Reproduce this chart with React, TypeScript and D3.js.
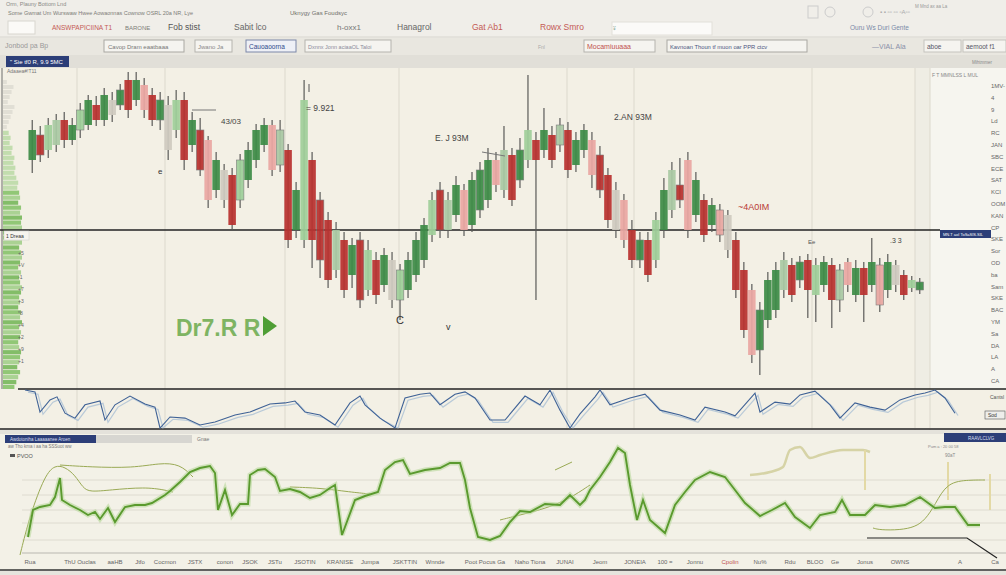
import React from 'react';
import * as d3 from 'd3';

// ---------- DATA ----------
const opens = [228,253,238,243,268,248,258,263,283,268,288,283,308,288,303,293,268,283,258,288,243,258,248,198,218,213,188,208,228,243,263,223,238,158,148,228,188,168,118,148,113,148,98,128,103,128,88,98,113,128,153,198,158,173,198,163,178,188,228,198,233,208,228,248,238,253,243,258,223,238,248,233,213,198,188,158,128,148,128,158,178,203,228,173,188,163,178,173,148,118,98,38,68,78,98,123,108,128,93,103,123,88,126,93,120,103,123,98,123,113,100,98];
const closes = [258,233,263,268,248,263,278,288,268,293,273,298,278,308,278,268,288,238,288,228,268,218,188,228,188,163,228,238,258,263,218,258,148,198,288,148,128,108,158,98,143,88,138,93,133,88,118,128,148,163,188,158,188,203,158,208,218,228,203,238,188,238,258,228,258,228,263,218,248,258,213,198,168,158,148,128,148,113,168,198,218,188,158,208,153,183,153,138,98,58,33,78,108,118,128,93,126,98,123,126,88,118,103,120,93,126,83,126,103,93,108,106];
const highs = [268,262,270,274,276,270,285,293,292,300,296,304,316,316,310,300,296,292,298,296,276,270,252,236,224,220,234,246,264,270,268,268,244,206,308,236,196,176,166,156,150,156,148,136,140,136,124,136,156,170,196,206,196,212,204,216,226,240,236,262,240,250,313,256,280,262,270,266,256,264,256,242,220,206,194,168,156,156,176,210,226,230,236,216,194,190,184,178,156,126,104,86,116,126,136,130,132,134,130,132,130,124,130,128,126,150,130,134,128,118,112,110];
const lows = [215,226,230,236,240,243,250,258,262,262,266,278,270,282,270,262,258,228,250,218,236,212,180,190,180,158,180,200,220,236,212,216,140,150,140,120,110,100,110,90,100,80,92,84,96,80,68,90,106,120,146,150,150,166,152,156,170,180,196,190,182,200,220,88,230,220,236,210,216,230,200,190,160,150,140,120,120,106,120,150,170,180,150,166,146,156,146,130,90,50,25,13,60,70,90,86,100,70,66,96,60,76,96,86,66,96,76,90,96,88,96,94];

const oscT = [2.5,3.5,4,5,5.7,6.5,7.5,8.5,10,10.5,11.5,13,14.5,15.5,16,17,18.5,20,21.5,23.5,25,27,28.5,29.5,30.5,32,33.5,35,36,36.5,38,39.5,40.5,42,43,44,45.5,46.5,47.5,49,50.5,52.5,54,55,56,57,58,59.5,60,61,63,64.5,66,68,69.5,70.5,72.5,73.5,75.5,76,77.5,79,80,81.5,83,84,85.5,87,88.5,90,91.5,92.5,93.5,94.5,95.5];
const oscV = [100,95,42,74,82,39,26,61,71,21,61,84,63,55,0,29,26,8,16,34,42,63,66,71,42,34,8,66,84,61,26,0,79,89,92,61,89,95,79,21,21,84,61,100,47,0,37,82,100,61,79,89,47,34,21,55,42,32,92,42,68,63,87,97,61,26,66,55,47,74,87,92,100,79,39];

const trendT = [2.8,3.3,4,5,5.5,6,6.2,7,8,8.8,9.5,10,10.8,11.5,12.5,13.5,14.5,15.2,16.5,17,18,19,20,21,21.5,21.8,22.5,23.2,24,24.8,25,25.8,26.5,27.5,28,29,30,31,32,33,33.5,34.2,35.5,36.5,37.8,38.5,39.5,40.3,41,42.5,44,45,46,46.5,47,47.8,49,50,51,52,53,54.5,56,57,58,58.5,59,60,61,61.8,62.5,63,63.7,64.3,65,66.5,67.5,68.5,69.5,71,72.5,73.5,74.5,76,77.2,78.5,79.5,81,82,83.5,84.2,85,86.5,87.5,89,90.5,92,93.5,94.5,95.5,96.8,98];
const trendV = [23,50,53,55,63,82,60,55,50,45,48,41,52,38,53,55,55,57,65,69,78,88,92,94,87,50,70,45,56,56,85,90,91,83,69,71,68,62,65,72,75,25,60,64,68,90,98,100,86,90,92,97,97,80,52,23,20,24,38,49,48,56,55,65,55,60,70,83,98,112,107,75,40,60,40,27,55,68,80,88,83,70,57,44,50,57,43,32,45,48,60,45,45,55,53,55,63,52,53,53,35,35];

const envA_T = [2,3,4.5,5.5,6.5,7.5,8.3,9,11,14.5,16.5,17.3];
const envA_V = [5,45,85,95,93,85,72,68,70,73,70,68];
const envB_T = [6,9,13.3,16,18,19.3];
const envB_V = [95,93,92,97,96,83];
const envC_T = [29,32,35,37];
const envC_V = [73,72,68,66];
const envD_T = [50,52,54,56,57.5,59];
const envD_V = [40,45,50,57,65,75];
const envE_T = [55.5,57.2];
const envE_V = [90,98];
const fadedT = [75,77,78.3,79,80,81,82,84.3,86.3,87];
const fadedV = [85,88,93,110,113,102,105,110,110,108];
const envG_T = [87.3,88,90,91.5,92.5,93.5,94.7,97,98.5];
const envG_V = [32,30,30,33,40,55,78,80,80];
const floorT = [86.7,96.7,99.7];
const floorV = [22,22,2];

const lowerGrid = [80, 65, 50, 37, 20];
const profile = [6,8,7,10,9,12,11,13,12,14,16,15,17,18,16,19,18,20,19,20,18,19,20,17,19,20,18,16,19,17,18,20,19,17,18,16,19,18,20,17,19,18,16,17,19,18,17,15,18,16,14,12];
const gridTimes = [7.7, 16.5, 28.5, 39.9, 56.7, 63.4, 81.2, 91.5, 93];

const axisLabels = ['Rua','ThU Ouclas','aaHB','Jtfo','Cocmon','JSTX','conon','JSOK','JSTu','JSOTIN','KRANISE','Jumpa','JSKTTIN','Wnnde','Poot Pocus Ga','Naho Tiona','JUNAI','Jeom','JONEIA','100 =','Jonnu','Cpolin','Nu%','Rdu','BLOO','Ge','Jonus','OWNS','A','Ca'];
const axisTimes = [3,8,11.5,14,16.5,19.5,22.5,25,27.5,30.5,34,37,40.5,43.5,48.5,53,56.5,60,63.5,66.5,69.5,73,76,79,81.5,83.5,86.5,90,96,99.5];
const priceLabels = ['1MV-','4','9','Ld','RC','JAN','SBC','ECE','SAT','KCI','OOM','KAN','CP','SKE','Sor','OD','ba','Sam','SKE','BAC','YM','Sa','DA','LA','A','CA'];

// ---------- COMPONENT ----------
const FONT = '"Liberation Sans", "DejaVu Sans", Arial, sans-serif';

export default function App() {
  const W = 1006, H = 575;
  const idx = opens.map((_, i) => i);
  const xBand = d3.scaleBand<number>().domain(idx).range([28, 924]).padding(0.06);
  const yPrice = d3.scaleLinear().domain([0, 320]).range([388, 68]);
  const xTime = d3.scaleLinear().domain([0, 100.6]).range([0, W]);
  const yOsc = d3.scaleLinear().domain([0, 100]).range([428, 390]);
  const yLow = d3.scaleLinear().domain([0, 130]).range([560, 430]);
  const yProf = d3.scaleBand<number>().domain(profile.map((_, i) => i)).range([130, 390]).padding(0.15);
  const xProf = d3.scaleLinear().domain([0, 20]).range([3, 22]);

  const mk = (T: number[], V: number[], ys: d3.ScaleLinear<number, number>, curve = d3.curveLinear) =>
    d3.line<number>().x((_, i) => xTime(T[i])).y((v) => ys(v)).curve(curve)(V) || '';

  const txt = (x: number, y: number, s: string, size = 7, fill = '#8a8a86', extra: any = {}) => (
    <text x={x} y={y} fontSize={size} fill={fill} fontFamily={FONT} {...extra}>{s}</text>
  );

  const candleColor = (i: number) => {
    const up = closes[i] >= opens[i];
    if (i % 7 === 3) return up ? '#a9c9a4' : '#cfcac0';
    if (i % 4 === 2) return up ? '#9fcf9a' : '#e9a7a2';
    return up ? '#3d8c47' : '#b8312f';
  };

  return (
    <div>
      <style>{`body{margin:0;background:#eeece6}`}</style>
      <svg width={W} height={H} style={{ display: 'block' }} fontFamily={FONT}>
        <rect x={0} y={0} width={W} height={H} fill="#eeece6" />

        {/* ---- toolbar ---- */}
        <rect x={0} y={0} width={W} height={37} fill="#f0eee9" />
        {txt(6, 6, 'Orm, Plauny   Bottom   Lnd', 5.5)}
        {txt(8, 15, 'Some Gwmat Um   Wurswaw    Hwee   Aowaonnas   Cownow   OSRL   20a   NR, Lye', 5.5, '#7d7d78')}
        {txt(290, 15, 'Uknygy   Gas   Foudsyc', 6, '#6f6f6a')}
        <rect x={8} y={21} width={27} height={13} fill="#fbfaf7" stroke="#d8d6cf" />
        {txt(52, 30, 'ANSWPAPICIINA   T1', 6.5, '#c45a55')}
        {txt(125, 30, 'BARONE', 6, '#7d7d78')}
        {txt(168, 30, 'Fob stist', 8.5, '#555')}
        {txt(234, 30, 'Sabit lco', 8.5, '#666')}
        {txt(337, 30, 'h-oxx1', 8, '#777')}
        {txt(397, 30, 'Hanagrol', 8.5, '#666')}
        {txt(472, 30, 'Gat Ab1', 8.5, '#c45a55')}
        {txt(540, 30, 'Rowx Smro', 8.5, '#c45a55')}
        <rect x={612} y={22} width={100} height={13} fill="#fbfaf8" stroke="#e2e0da" />
        {txt(612, 31, '⍤', 8, '#8a9')}
        <rect x={808} y={6} width={10} height={12} fill="none" stroke="#ccc" />
        <circle cx={830} cy={12} r={5} fill="none" stroke="#ccc" />
        <circle cx={868} cy={12} r={5} fill="none" stroke="#ccc" />
        {txt(915, 8, 'M Mnd ax  aa  La', 4.5, '#999')}
        {txt(880, 14, '▪ ▪ ▫▫ ▫▫ ▫A▫▫', 6, '#aaa')}
        {txt(850, 30, 'Ouru   Ws   Duri   Gente', 6.5, '#7a8aa8')}
        <line x1={0} y1={37} x2={W} y2={37} stroke="#d8d6cf" />

        {/* button row */}
        <rect x={0} y={38} width={W} height={17} fill="#e9e7e0" />
        {txt(5, 48, 'Jonbod    pa    Bp', 7, '#999')}
        <rect x={104} y={40} width={80} height={12} fill="#f5f4f0" stroke="#a9a8a2" />
        {txt(108, 49, 'Cavop Dram  eaatbaaa', 6, '#777')}
        <rect x={195} y={40} width={37} height={12} fill="#f5f4f0" stroke="#b5b4ae" />
        {txt(198, 49, 'Jwano   Ja', 6, '#888')}
        <rect x={246} y={40} width={50} height={12} fill="#eef0f6" stroke="#7c88a8" />
        {txt(249, 49, 'Cauoaoorna', 6.5, '#2f4a8a')}
        <rect x={305} y={40} width={86} height={12} fill="#f5f4f0" stroke="#b5b4ae" />
        {txt(308, 49, 'Dxnnx Jonn aciaaOL Taloi', 5.5, '#8a8a9a')}
        {txt(538, 49, 'Fnl', 5, '#aaa')}
        <rect x={584} y={40} width={71} height={12} fill="#f5f4f0" stroke="#b5b4ae" />
        {txt(587, 49, 'Mocamiuuaaa', 7, '#c0504d')}
        <rect x={667} y={40} width={140} height={12} fill="#f5f4f0" stroke="#a9a8a2" />
        {txt(670, 49, 'Kavnoan Thoun tf muon  oar PPR  ctcv', 5.8, '#4a5680')}
        {txt(872, 49, '—VIAL Ala', 7, '#8a8fa8')}
        <rect x={924} y={40} width={37} height={12} fill="#f5f4f0" stroke="#c5c4be" />
        {txt(927, 49, 'aboe', 6.5, '#556')}
        <rect x={963} y={40} width={43} height={12} fill="#f5f4f0" stroke="#c5c4be" />
        {txt(966, 49, 'aemoot  f1', 6.5, '#556')}

        {/* band */}
        <rect x={0} y={55} width={W} height={13} fill="#e1dfd8" />
        <rect x={6} y={56} width={63} height={11} fill="#2c3e78" />
        {txt(10, 64, '" Sie tf0 R, 9.9 5MC', 6, '#fff')}
        {txt(972, 64, 'Mihtmmer', 4.5, '#888')}

        {/* ---- main chart panel ---- */}
        <rect x={0} y={68} width={W} height={321} fill="#f3f0e5" />
        <rect x={930} y={68} width={76} height={321} fill="#f6f5ef" />
        <rect x={915} y={68} width={15} height={321} fill="#efede4" />
        {gridTimes.map((t, i) => (
          <line key={'g' + i} x1={xTime(t)} x2={xTime(t)} y1={68} y2={552} stroke="#dcd9cd" strokeWidth={1} />
        ))}
        {txt(7, 73, 'Adaaea#!T11', 5, '#777')}

        {/* left volume profile */}
        <line x1={2} x2={2} y1={68} y2={390} stroke="#9a9a94" strokeWidth={1.5} />
        {[0, 1, 2, 3, 4, 5, 6, 7, 8, 9].map((k) => (
          <rect key={'gp' + k} x={3} y={80 + k * 5} width={xProf(4 + (k * 7) % 9) - 3} height={4} fill="#d8d7cf" opacity={0.7} />
        ))}
        {profile.map((w, i) => (
          <rect key={'p' + i} x={3} y={yProf(i)} width={xProf(w) - 3} height={yProf.bandwidth()}
            fill={i < 12 ? '#b8d9a4' : i % 3 === 0 ? '#7fbf63' : i % 3 === 1 ? '#9ccc85' : '#6fb452'} opacity={0.85} />
        ))}
        {['+5', '+V', '-1', '+7', '+3', '*8', '+4', '+2', '+9', '+1'].map((s, i) => txt(18, 255 + i * 12, s, 5, '#666', { key: 'pl' + i }))}

        {/* price axis labels */}
        {txt(932, 77, 'F  T  MMNLSS  L MUL', 5, '#888')}
        {priceLabels.map((s, i) => txt(991, 88 + i * 11.8, s, 6, '#666', { key: 'pr' + i }))}

        {/* horizontal level */}
        <line x1={0} x2={940} y1={yPrice(158)} y2={yPrice(158)} stroke="#222" strokeWidth={1.4} />
        <rect x={4} y={231} width={25} height={9} fill="#f6f4ee" stroke="#ccc" strokeWidth={0.5} />
        {txt(6, 238, '1 Dreaa', 5, '#333')}
        <rect x={940} y={230} width={51} height={8} fill="#2c3e78" />
        {txt(943, 236, 'MN.T aoI ToSaSIS.SIL', 4, '#fff')}

        {/* candles */}
        {idx.map((i) => {
          const x = xBand(i)!;
          const bw = xBand.bandwidth();
          const cx = x + bw / 2;
          const top = yPrice(Math.max(opens[i], closes[i]));
          const bot = yPrice(Math.min(opens[i], closes[i]));
          const c = candleColor(i);
          return (
            <g key={'c' + i}>
              <line x1={cx} x2={cx} y1={yPrice(highs[i])} y2={yPrice(lows[i])} stroke="#5a5a58" strokeWidth={1.2} />
              <rect x={x} y={top} width={bw} height={Math.max(1, bot - top)} fill={c} stroke={i % 5 === 1 ? '#777' : 'none'} strokeWidth={0.6} opacity={0.93} />
            </g>
          );
        })}

        {/* annotations */}
        {txt(306, 111, '= 9.921', 8.5, '#444')}
        <line x1={309} x2={309} y1={84} y2={92} stroke="#555" />
        {txt(221, 124, '43/03', 8, '#444')}
        <line x1={192} x2={216} y1={110} y2={110} stroke="#777" />
        {txt(435, 141, 'E.  J 93M', 8.5, '#444')}
        <line x1={482} x2={505} y1={152} y2={156} stroke="#777" />
        {txt(614, 120, '2.AN 93M', 8.5, '#444')}
        {txt(738, 210, '~4A0IM', 9, '#b83a35')}
        {txt(176, 336, 'Dr7.R R', 23, '#6aaa4c', { fontWeight: 'bold', opacity: 0.85 })}
        <path d="M 263 316 L 277 326 L 263 336 Z" fill="#4f9e35" />
        {txt(396, 324, 'C', 11, '#333')}
        {txt(446, 330, 'v', 9, '#333')}
        {txt(158, 174, 'e', 8, '#333')}
        {txt(808, 244, 'Ee', 6, '#555')}
        {txt(890, 243, '.3    3', 7, '#444')}

        {/* ---- oscillator panel ---- */}
        <rect x={0} y={389} width={W} height={40} fill="#f3f0e5" />
        <line x1={18} x2={W} y1={389} y2={389} stroke="#222" strokeWidth={1.5} />
        <line x1={0} x2={W} y1={429} y2={429} stroke="#222" strokeWidth={1.5} />
        {gridTimes.map((t, i) => (
          <line key={'og' + i} x1={xTime(t)} x2={xTime(t)} y1={390} y2={428} stroke="#dcd9cd" />
        ))}
        <path d={mk(oscT.map((t) => t + 0.3), oscV.map((v) => Math.max(0, v - 6)), yOsc)} fill="none" stroke="#9fb9d3" strokeWidth={1.2} opacity={0.7} />
        <path d={mk(oscT, oscV, yOsc)} fill="none" stroke="#3f6296" strokeWidth={1.1} />
        {txt(990, 399, 'Cantsl', 5, '#555')}
        <rect x={985} y={411} width={20} height={8} fill="#eeeeea" stroke="#555" strokeWidth={0.6} />
        {txt(988, 417, 'Sod', 5, '#333')}

        {/* ---- lower panel ---- */}
        <rect x={0} y={430} width={W} height={140} fill="#f3f1e7" />
        <rect x={0} y={430} width={W} height={4} fill="#e4e2db" />
        <rect x={5} y={435} width={91} height={8} fill="#2c3e78" />
        {txt(10, 441, 'Awdotoniha Laaaaanee Aroen', 4.5, '#d8def0')}
        <rect x={96} y={435} width={96} height={8} fill="#d7d6d1" />
        {txt(197, 441, 'Gnae', 5, '#777')}
        {txt(8, 448, 'aw   Tho kma i aa    ha      SSSuot ww', 4.5, '#777')}
        <rect x={10} y={454} width={5} height={3} fill="#555" />
        {txt(17, 458, 'PVOO', 5.5, '#555')}
        <rect x={944} y={433} width={62} height={9} fill="#2c3e78" />
        {txt(968, 440, 'RAAVLCLVG', 4.5, '#d8def0')}
        {txt(928, 448, 'Pum a : 20 00 58', 4, '#888')}
        {txt(945, 457, '90aT', 4.5, '#888')}

        {lowerGrid.map((v, i) => (
          <line key={'lg' + i} x1={22} x2={W} y1={yLow(v)} y2={yLow(v)} stroke="#dedbd0" />
        ))}
        <line x1={22} x2={W} y1={yLow(7)} y2={yLow(7)} stroke="#b9b7b0" />

        <path d={mk(fadedT, fadedV, yLow, d3.curveMonotoneX)} fill="none" stroke="#c9c68a" strokeWidth={2.5} opacity={0.7} />
        {[86.5, 94.8, 99].map((t, i) => (
          <line key={'fv' + i} x1={xTime(t)} x2={xTime(t)} y1={yLow(110 - i * 12)} y2={yLow(70 - i * 10)} stroke="#e3d9a5" strokeWidth={2} />
        ))}

        {[[envA_T, envA_V], [envB_T, envB_V], [envC_T, envC_V], [envD_T, envD_V], [envE_T, envE_V], [envG_T, envG_V]].map(([T, V], i) => (
          <path key={'env' + i} d={mk(T as number[], V as number[], yLow, d3.curveBasis)} fill="none" stroke="#9aaa55" strokeWidth={1} />
        ))}
        <path d={mk(floorT, floorV, yLow)} fill="none" stroke="#222" strokeWidth={1.2} />

        <path d={mk(trendT, trendV, yLow)} fill="none" stroke="#b9d99d" strokeWidth={5} opacity={0.6} />
        <path d={mk(trendT, trendV, yLow)} fill="none" stroke="#5a9a2e" strokeWidth={1.9} />

        {/* bottom axis */}
        {axisLabels.map((s, i) => txt(xTime(axisTimes[i]), 564, s, 6, s === 'Cpolin' ? '#c0504d' : '#666', { key: 'ax' + i, textAnchor: 'middle' }))}
        <line x1={0} x2={W} y1={570} y2={570} stroke="#333" strokeWidth={1.5} />
        <rect x={0} y={571} width={W} height={4} fill="#e6e4dd" />
      </svg>
    </div>
  );
}
